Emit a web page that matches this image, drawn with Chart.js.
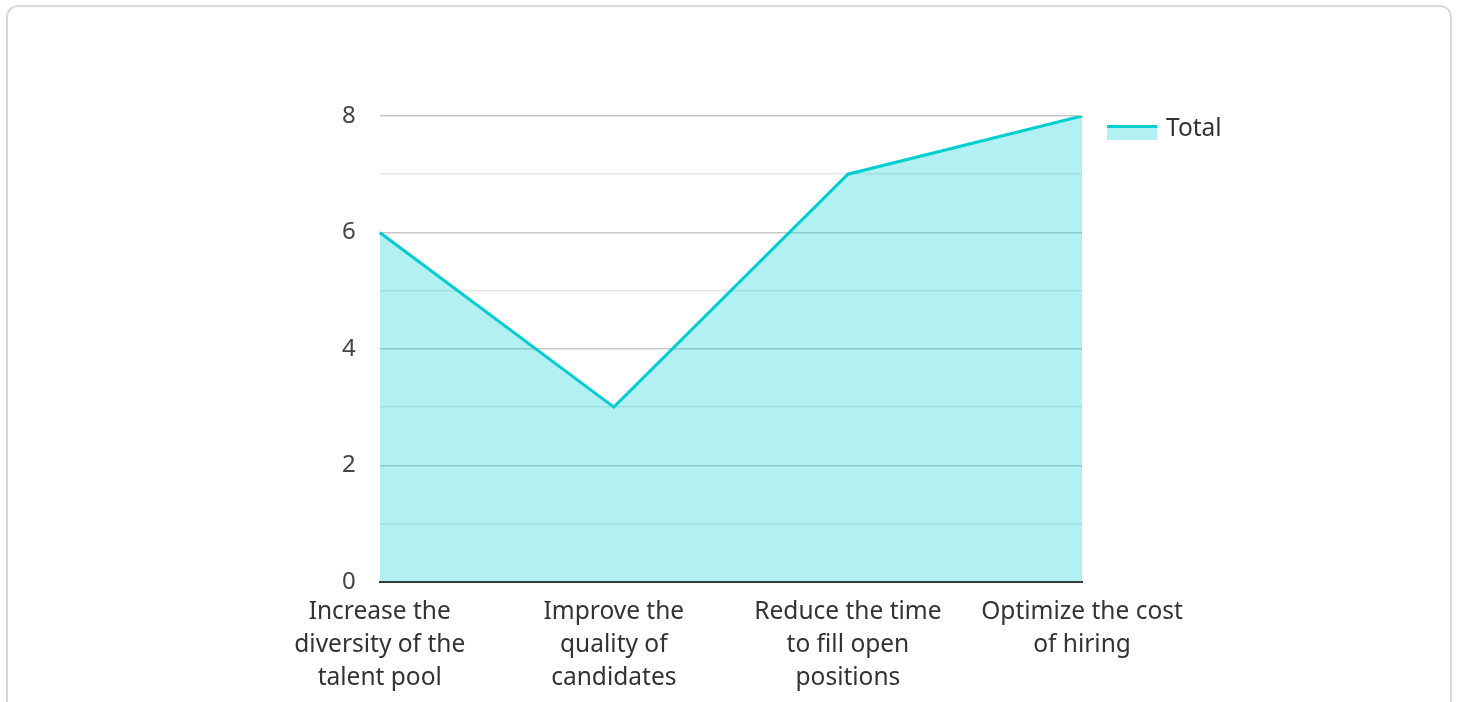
<!DOCTYPE html>
<html>
<head>
<meta charset="utf-8">
<script src="https://cdn.jsdelivr.net/npm/chart.js@4"></script>
<style>
  body { margin: 0; background: #fff; overflow: hidden; }
  .card {
    position: absolute; left: 6px; top: 5px; width: 1442px; height: 720px;
    border: 2px solid #dadada; border-radius: 12px; background: #fff;
  }
  canvas { position: absolute; left: 0; top: 0; }
</style>
</head>
<body>
<div class="card"><canvas id="lineCanvas" width="1442" height="702"></canvas></div>
<script>
// ------DATA--------
const categories = [
    ["Increase the", "diversity of the", "talent pool"],
    ["Improve the", "quality of", "candidates"],
    ["Reduce the time", "to fill open", "positions"],
    ["Optimize the cost", "of hiring"]
];
const totalValues = [6, 3, 7, 8];
const yTicks = [0, 2, 4, 6, 8];

const lineColor = "rgb(0, 206, 209)";
const fillColor = "rgba(0, 206, 209, 0.3)";
const fontFamily = "Noto Sans";

// legend drawn next to the plot: filled box with the line on its top edge
const sideLegend = {
    id: "sideLegend",
    afterDraw(chart) {
        const ctx = chart.ctx;
        const area = chart.chartArea;
        const ds = chart.data.datasets[0];
        const x = area.right + 25;
        const y = area.top + 9;
        ctx.save();
        ctx.fillStyle = ds.backgroundColor;
        ctx.fillRect(x, y, 50, 15);
        ctx.strokeStyle = ds.borderColor;
        ctx.lineWidth = 3;
        ctx.beginPath();
        ctx.moveTo(x, y + 1.5);
        ctx.lineTo(x + 50, y + 1.5);
        ctx.stroke();
        ctx.fillStyle = "#333";
        ctx.font = "24.5px '" + fontFamily + "'";
        ctx.textBaseline = "alphabetic";
        ctx.fillText(ds.label, x + 59, area.top + 20);
        ctx.restore();
    }
};

const lineCanvas = document.getElementById("lineCanvas");

const lineChart = new Chart(lineCanvas, {
    type: "line",
    data: {
        labels: categories,
        datasets: [
            {
                label: "Total",
                data: totalValues,
                borderColor: lineColor,
                backgroundColor: fillColor,
                borderWidth: 3,
                fill: "origin",
                pointRadius: 0,
                tension: 0
            }
        ]
    },
    options: {
        responsive: false,
        animation: false,
        layout: { padding: { left: 310, right: 368, top: 109, bottom: 0 } },
        plugins: {
            tooltip: { enabled: false },
            legend: { display: false }
        },
        scales: {
            x: {
                offset: false,
                grid: { display: false, drawTicks: false },
                border: { display: true, color: "#333", width: 2 },
                ticks: {
                    color: "#333",
                    padding: 14,
                    maxRotation: 0,
                    autoSkip: false,
                    font: { family: fontFamily, size: 24.5, lineHeight: 1.35 }
                }
            },
            y: {
                min: 0,
                max: 8,
                grid: {
                    drawTicks: false,
                    color: ctx => (ctx.tick && ctx.tick.value % 2 === 0) ? "#c8c8c8" : "#e6e6e6",
                    lineWidth: 1.5
                },
                border: { display: false },
                ticks: {
                    stepSize: 1,
                    padding: 24,
                    color: "#444",
                    font: { family: fontFamily, size: 24 },
                    callback: v => yTicks.includes(v) ? String(v) : ""
                }
            }
        }
    },
    plugins: [sideLegend]
});
</script>
</body>
</html>
